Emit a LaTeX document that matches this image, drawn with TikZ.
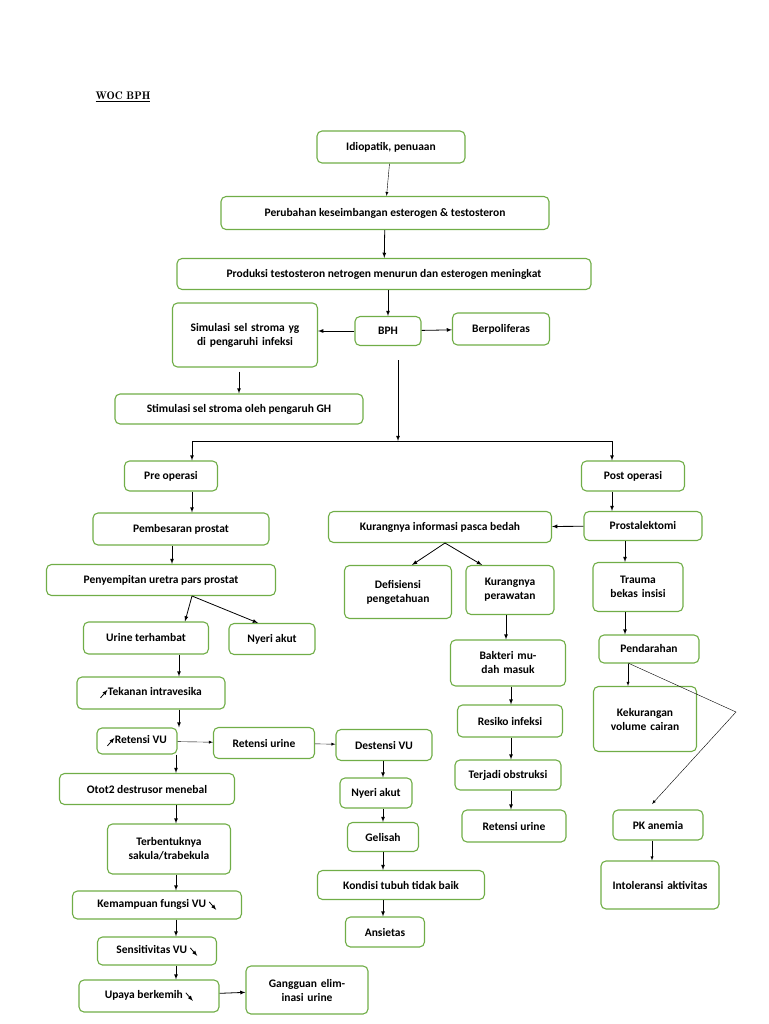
\documentclass[tikz,border=0pt]{standalone}
\usepackage{fontspec}
\setmainfont{Carlito}
\usepackage{tikz}
\usepackage{xcolor}
\definecolor{boxgreen}{RGB}{112,173,71}
\newcommand{\upar}{\tikz[baseline=-1pt]\draw[-latex,thick] (0,-3pt) -- (7pt,5pt);}
\newcommand{\dnar}{\tikz[baseline=-1pt]\draw[-latex,thick] (0,5pt) -- (7pt,-3pt);}

\begin{document}
\begin{tikzpicture}[x=1pt,y=-1pt,
    box/.style={draw=boxgreen, line width=1.1pt, rounded corners=5pt, align=center,
      font=\fontsize{11.5}{14}\selectfont\bfseries, inner sep=2pt},
    arr/.style={-latex, thick},
    thn/.style={-latex, thin}]
    \useasboundingbox (0,0) rectangle (768,1024);
    % title
    \node[anchor=west, font=\fontfamily{lmr}\selectfont\bfseries\fontsize{11}{13}\selectfont] at (92,97) {\underline{WOC BPH}};
    % main chain
    \node[box, minimum width=148, minimum height=32] (idio) at (391,147) {Idiopatik, penuaan};
    \node[box, minimum width=328, minimum height=33] (perub) at (385,213) {Perubahan keseimbangan esterogen \& testosteron};
    \node[box, minimum width=414, minimum height=31] (prod) at (384,274) {Produksi testosteron netrogen menurun dan esterogen meningkat};
    \node[box, minimum width=145, minimum height=64, text width=120] (sim) at (245,335) {Simulasi sel stroma yg di pengaruhi infeksi};
    \node[box, minimum width=66, minimum height=29] (bph) at (388,331) {BPH};
    \node[box, minimum width=97, minimum height=32] (berpol) at (501,329) {Berpoliferas};
    \node[box, minimum width=248, minimum height=30] (stim) at (239,409) {Stimulasi sel stroma oleh pengaruh GH};
    \draw[thn] (idio) -- (perub);
    \draw[arr] (perub) -- (prod);
    \draw[arr] (prod.south -| bph) -- (bph);
    \draw[arr] (bph) -- (sim.east |- bph);
    \draw[arr] (bph) -- (berpol);
    \draw[arr] (sim.south -| stim.north) ++(0,4) -- (stim.north);
    \coordinate (split) at (398,360);
    \coordinate (bar) at (398,441);
    \draw[arr] (split) -- (bar);
    \draw (192,441) -- (612,441);
    % pre operasi
    \node[box, minimum width=93, minimum height=30] (pre) at (171,476) {Pre operasi};
    \node[box, minimum width=176, minimum height=32] (pemb) at (181,529) {Pembesaran prostat};
    \node[box, minimum width=229, minimum height=31] (peny) at (161,580) {Penyempitan uretra pars prostat};
    \node[box, minimum width=125, minimum height=32] (urine) at (146,638) {Urine terhambat};
    \node[box, minimum width=86, minimum height=31] (nyeri) at (272,639) {Nyeri akut};
    \node[box, minimum width=148, minimum height=32] (tek) at (151,693) {\upar Tekanan intravesika};
    \node[box, minimum width=80, minimum height=26] (retvu) at (137,741) {\upar Retensi VU};
    \node[box, minimum width=101, minimum height=31] (retur) at (264,743) {Retensi urine};
    \node[box, minimum width=96, minimum height=31] (dest) at (384,745) {Destensi VU};
    \node[box, minimum width=175, minimum height=31] (otot) at (147,789) {Otot2 destrusor menebal};
    \node[box, minimum width=123, minimum height=50, text width=110] (terb) at (169,849) {Terbentuknya sakula/trabekula};
    \node[box, minimum width=169, minimum height=28] (kemp) at (157,905) {Kemampuan fungsi VU \dnar};
    \node[box, minimum width=119, minimum height=28] (sens) at (157,951) {Sensitivitas VU \dnar};
    \node[box, minimum width=140, minimum height=32] (upaya) at (149,996) {Upaya berkemih \dnar};
    \node[box, minimum width=122, minimum height=48, text width=110] (gang) at (307,990) {Gangguan eliminasi urine};
    \draw[arr] (192,441) -- (pre.north -| 192,0);
    \draw[arr] (pre.south -| 192,0) -- (pemb.north -| 192,0);
    \draw[arr] (pemb.south -| 172,0) -- (peny.north -| 172,0);
    \coordinate (py) at (192,596);
    \draw[arr] (py) -- (urine.north -| 185,0);
    \draw[arr] (py) -- (nyeri.north -| 258,0);
    \draw[arr] (urine.south -| 179,0) -- (tek.north -| 179,0);
    \draw[arr] (tek.south -| 179,0) -- (retvu.north -| 179,0);
    \draw[arr] (retvu.south -| 176,0) -- (otot.north -| 176,0);
    \draw[thn] (retvu) -- (retur);
    \draw[thn] (retur) -- (dest);
    \draw[arr] (otot.south -| 176,0) -- (terb.north -| 176,0);
    \draw[arr] (terb.south -| 176,0) -- (kemp.north -| 176,0);
    \draw[arr] (kemp.south -| 176,0) -- (sens.north -| 176,0);
    \draw[arr] (sens.south -| 176,0) -- (upaya.north -| 176,0);
    \draw[arr] (upaya) -- (gang);
    % middle column
    \node[box, minimum width=72, minimum height=30] (nyeri2) at (376,793) {Nyeri akut};
    \node[box, minimum width=71, minimum height=29] (gel) at (383,837) {Gelisah};
    \node[box, minimum width=167, minimum height=29] (kond) at (401,885) {Kondisi tubuh tidak baik};
    \node[box, minimum width=79, minimum height=30] (ans) at (385,932) {Ansietas};
    \draw[arr] (dest.south -| 383,0) -- (nyeri2.north -| 383,0);
    \draw[arr] (nyeri2.south -| 383,0) -- (gel.north -| 383,0);
    \draw[arr] (gel.south -| 383,0) -- (kond.north -| 383,0);
    \draw[arr] (kond.south -| 383,0) -- (ans.north -| 383,0);
    % post operasi
    \node[box, minimum width=103, minimum height=30] (post) at (633,476) {Post operasi};
    \node[box, minimum width=118, minimum height=29] (prosta) at (643,526) {Prostalektomi};
    \node[box, minimum width=223, minimum height=31] (kinfo) at (440,527) {Kurangnya informasi pasca bedah};
    \node[box, minimum width=107, minimum height=53, text width=95] (def) at (398,592) {Defisiensi pengetahuan};
    \node[box, minimum width=88, minimum height=49, text width=80] (kper) at (510,590) {Kurangnya perawatan};
    \node[box, minimum width=115, minimum height=46, text width=100] (bakt) at (508,663) {Bakteri mudah masuk};
    \node[box, minimum width=105, minimum height=32] (resiko) at (510,721) {Resiko infeksi};
    \node[box, minimum width=106, minimum height=30] (terj) at (508,775) {Terjadi obstruksi};
    \node[box, minimum width=104, minimum height=32] (retur2) at (514,826) {Retensi urine};
    \node[box, minimum width=90, minimum height=49, text width=80] (trauma) at (638,587) {Trauma\\ bekas insisi};
    \node[box, minimum width=100, minimum height=28] (pend) at (649,649) {Pendarahan};
    \node[box, minimum width=103, minimum height=65, text width=90] (kekur) at (645,719) {Kekurangan volume cairan};
    \node[box, minimum width=90, minimum height=30] (pk) at (658,825) {PK anemia};
    \node[box, minimum width=118, minimum height=48, text width=100] (intol) at (660,885) {Intoleransi aktivitas};
    \draw[arr] (612,441) -- (post.north -| 612,0);
    \draw[arr] (post.south -| 612,0) -- (prosta.north -| 612,0);
    \draw[arr] (prosta) -- (kinfo);
    \coordinate (ki) at (445,543);
    \draw[arr] (ki) -- (def.north -| 412,0);
    \draw[arr] (ki) -- (kper.north -| 482,0);
    \draw[arr] (kper.south -| 506,0) -- (bakt.north -| 506,0);
    \draw[arr] (bakt.south -| 511,0) -- (resiko.north -| 511,0);
    \draw[arr] (resiko.south -| 511,0) -- (terj.north -| 511,0);
    \draw[arr] (terj.south -| 511,0) -- (retur2.north -| 511,0);
    \draw[arr] (prosta.south -| 625,0) -- (trauma.north -| 625,0);
    \draw[arr] (trauma.south -| 625,0) -- (pend.north -| 625,0);
    \draw[thn] (pend.south -| 628,0) -- (kekur.north -| 628,0);
    \coordinate (turn) at (736,712);
    \draw[thn] (628,663) -- (turn) -- (652,804);
    \draw[thn] (pk.south -| 652,0) -- (intol.north -| 652,0);
\end{tikzpicture}
\end{document}
